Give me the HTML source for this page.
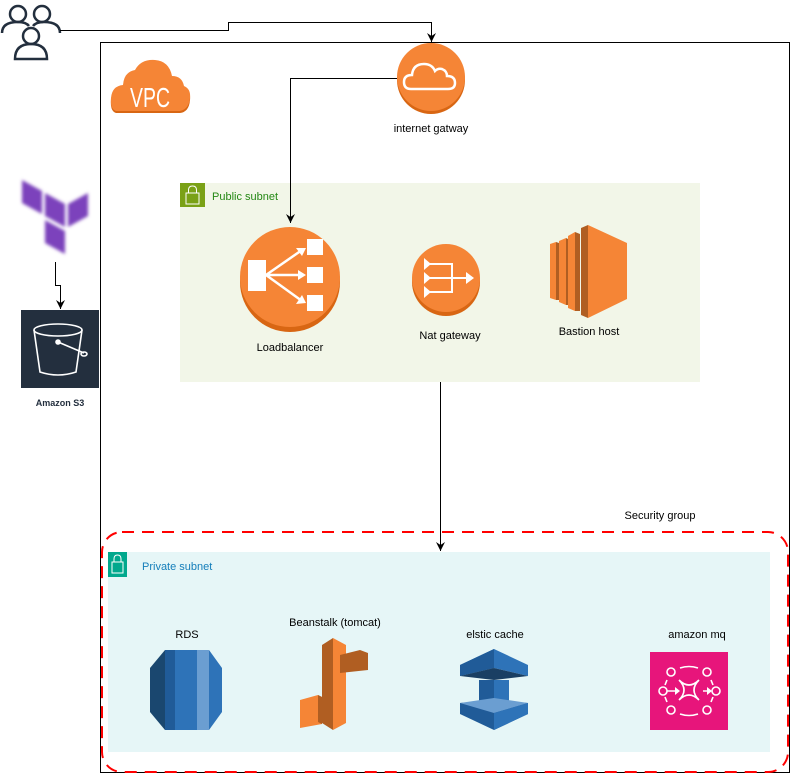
<!DOCTYPE html>
<html><head><meta charset="utf-8"><style>
html,body{margin:0;padding:0;background:#fff;}
svg{display:block;font-family:"Liberation Sans",Arial,sans-serif;}
</style></head><body>
<svg width="791" height="773" viewBox="0 0 791 773" xmlns="http://www.w3.org/2000/svg">
<defs>
<marker id="ar" markerWidth="10" markerHeight="10" refX="9" refY="4.5" orient="auto" markerUnits="userSpaceOnUse">
<path d="M0,0 L9,4.5 L0,9 L3,4.5 Z" fill="#000"/>
</marker>
<filter id="bl"><feGaussianBlur stdDeviation="1.5"/></filter>
</defs>
<rect x="100.5" y="42.5" width="689" height="730" fill="#fff" stroke="#000" stroke-width="1"/>

<!-- users -->
<g fill="none" stroke="#232f3e" stroke-width="2.5">
<circle cx="18" cy="14" r="8"/><path d="M2,33 q0,-11 16,-11 q8,0 11,4"/>
<circle cx="42" cy="14" r="8"/><path d="M60,33 q0,-11 -16,-11 q-8,0 -11,4"/>
<circle cx="31" cy="36" r="8"/><path d="M15,59 q0,-15 16,-15 q16,0 16,15 z"/>
</g>

<!-- VPC cloud -->
<g>
<path d="M116,113 q-6,-2 -5,-13 q1,-12 12,-13 q1,-13 12,-15 q6,-11 20,-10 q14,1 17,16 q10,0 12,10 q7,3 6,12 q-1,12 -10,13 z" fill="#d86613"/>
<path d="M116,111 q-6,-2 -5,-13 q1,-12 12,-13 q1,-13 12,-15 q6,-11 20,-10 q14,1 17,16 q10,0 12,10 q7,3 6,12 q-1,11 -10,13 z" fill="#f58536"/>
<text x="150" y="107" font-size="28" fill="#fff" text-anchor="middle" textLength="40" lengthAdjust="spacingAndGlyphs">VPC</text>
</g>

<!-- IGW -->
<circle cx="431" cy="80" r="34" fill="#d86613"/>
<circle cx="431" cy="77" r="34" fill="#f58536"/>
<path d="M411,89 q-7,0 -7,-7 q0,-7 8,-7 q1,-11 12,-11 q8,0 11,7 q3,-3 7,-2 q5,2 5,7 q8,0 8,7 q0,6 -7,6 z" fill="none" stroke="#fff" stroke-width="2.5"/>
<text x="431" y="132" font-size="11" text-anchor="middle" fill="#000">internet gatway</text>

<!-- terraform -->
<g fill="#7b42bc" filter="url(#bl)">
<polygon points="22,180 42,191 42,214 22,203"/>
<polygon points="45,193 65,204 65,227 45,216"/>
<polygon points="68,204 88,193 88,216 68,227"/>
<polygon points="45,220 65,231 65,254 45,243"/>
</g>
<!-- S3 -->
<rect x="21" y="310" width="78" height="78" fill="#232f3e"/>
<g fill="none" stroke="#fff" stroke-width="1.6">
<ellipse cx="58" cy="330" rx="24" ry="6"/>
<path d="M34,330 L40,372 q18,6 36,0 L82,330"/>
<path d="M58,342 L84,353" /><circle cx="58" cy="342" r="2" fill="#fff"/>
<ellipse cx="84" cy="354" rx="3" ry="2"/>
</g>
<text x="60" y="406" font-size="9" font-weight="bold" text-anchor="middle" fill="#232f3e">Amazon S3</text>

<!-- public subnet -->
<rect x="180" y="183" width="520" height="199" fill="#f2f6e8"/>
<rect x="180" y="183" width="25" height="24" fill="#7aa116"/>
<g fill="none" stroke="#fff" stroke-width="1"><rect x="186" y="193" width="13" height="11"/><path d="M188.5,193 v-3 q0,-4 4,-4 q4,0 4,4 v3"/></g>
<text x="212" y="200" font-size="11" fill="#248814">Public subnet</text>

<!-- LB -->
<circle cx="290" cy="282" r="50" fill="#d86613"/>
<circle cx="290" cy="277" r="50" fill="#f58536"/>
<g fill="#fff">
<rect x="248" y="260" width="18" height="31"/>
<rect x="307" y="239" width="16" height="16"/><rect x="307" y="267" width="16" height="16"/><rect x="307" y="295" width="16" height="16"/>
</g>
<g stroke="#fff" stroke-width="2.5" fill="none"><path d="M266,275 L302,250 M266,275 H302 M266,275 L302,301"/></g>
<g fill="#fff"><polygon points="306,248 296,248 302,256"/><polygon points="306,275 298,270 298,280"/><polygon points="306,303 296,304 302,295"/></g>
<text x="290" y="351" font-size="11" text-anchor="middle" fill="#000">Loadbalancer</text>

<!-- NAT -->
<circle cx="446" cy="282" r="34" fill="#d86613"/>
<circle cx="446" cy="278" r="34" fill="#f58536"/>
<g stroke="#fff" stroke-width="2" fill="none"><path d="M430,264 H452 V292 H430 M430,278 H468"/></g>
<g fill="#fff"><polygon points="424,258 431,264 424,270"/><polygon points="424,272 431,278 424,284"/><polygon points="424,286 431,292 424,298"/><polygon points="466,272 474,278 466,284"/></g>
<text x="450" y="339" font-size="11" text-anchor="middle" fill="#000">Nat gateway</text>

<!-- Bastion -->
<g>
<polygon points="550,244 556,242 556,300 550,298" fill="#f58536"/><polygon points="556,242 559,243 559,300 556,300" fill="#b05e22"/>
<polygon points="559,241 566,238 566,305 559,302" fill="#f58536"/><polygon points="566,238 570,240 570,305 566,305" fill="#b05e22"/>
<polygon points="568,236 575,232 575,311 568,308" fill="#f58536"/><polygon points="575,232 580,234 580,311 575,311" fill="#b05e22"/>
<polygon points="581,228 588,225 588,318 581,315" fill="#b05e22"/>
<polygon points="588,225 627,243 627,299 588,318" fill="#f58536"/>
</g>
<text x="589" y="335" font-size="11" text-anchor="middle" fill="#000">Bastion host</text>

<text x="660" y="519" font-size="11" text-anchor="middle" fill="#000">Security group</text>

<!-- private subnet -->
<rect x="108" y="552" width="662" height="200" fill="#e6f6f7"/>
<rect x="108" y="552" width="19" height="25" fill="#01a88d"/>
<g fill="none" stroke="#fff" stroke-width="1"><rect x="112" y="562" width="11" height="11"/><path d="M114,562 v-3 q0,-4 3.5,-4 q3.5,0 3.5,4 v3"/></g>
<text x="142" y="570" font-size="11" fill="#147eba">Private subnet</text>
<!-- security group -->
<rect x="102" y="532" width="686" height="240" rx="20" fill="none" stroke="#ff0000" stroke-width="2" stroke-dasharray="12,8"/>

<!-- RDS -->
<text x="187" y="638" font-size="11" text-anchor="middle" fill="#000">RDS</text>
<path d="M165,650 L150,668 V712 L165,730 Z" fill="#1a476f"/>
<rect x="165" y="650" width="10" height="80" fill="#205b98"/>
<rect x="175" y="650" width="22" height="80" fill="#2e73b8"/>
<rect x="197" y="650" width="12" height="80" fill="#6b9ed1"/>
<path d="M209,650 L222,668 V712 L209,730 Z" fill="#2e73b8"/>

<!-- Beanstalk -->
<text x="335" y="626" font-size="11" text-anchor="middle" fill="#000">Beanstalk (tomcat)</text>
<polygon points="322,645 333,638 333,730 322,723" fill="#b05e22"/>
<polygon points="333,638 346,645 346,723 333,730" fill="#f58536"/>
<polygon points="340,655 360,650 368,653 368,670 340,673" fill="#b05e22"/>
<polygon points="300,700 318,695 322,697 322,724 300,728" fill="#f58536"/>
<polygon points="318,695 322,697 322,724 318,722" fill="#b05e22"/>

<!-- Elasticache -->
<text x="495" y="638" font-size="11" text-anchor="middle" fill="#000">elstic cache</text>
<polygon points="494,649 528,665 528,676 494,668 460,676 460,665" fill="#2e73b8"/>
<polygon points="494,649 460,665 460,676 494,668" fill="#205b98"/>
<polygon points="460,676 494,668 528,676 494,680" fill="#1a3f63"/>
<rect x="479" y="680" width="15" height="22" fill="#205b98"/><rect x="494" y="680" width="15" height="22" fill="#2e73b8"/>
<polygon points="460,703 494,700 528,703 528,714 494,730 460,714" fill="#205b98"/>
<polygon points="460,703 494,698 528,703 494,713" fill="#6b9ed1"/>
<polygon points="494,713 528,703 528,714 494,730" fill="#2e73b8"/>

<!-- MQ -->
<text x="697" y="638" font-size="11" text-anchor="middle" fill="#000">amazon mq</text>
<rect x="650" y="652" width="78" height="78" fill="#e7157b"/>
<g fill="none" stroke="#fff" stroke-width="1.6">
<circle cx="671" cy="672" r="4"/><circle cx="707" cy="672" r="4"/><circle cx="663" cy="691" r="4"/><circle cx="716" cy="691" r="4"/><circle cx="671" cy="710" r="4"/><circle cx="707" cy="710" r="4"/>
<path d="M680,668 q9,-3 18,0 M680,714 q9,3 18,0 M667,680 l-2,5 M711,680 l2,5 M665,697 l2,5 M713,697 l-2,5"/>
<path d="M679,680 q10,10 20,0 q-10,10 0,20 q-10,-10 -20,0 q10,-10 0,-20 z"/>
<path d="M667,691 h8 M703,691 h8"/>
</g>
<polygon points="675,687 680,691 675,695" fill="#fff"/><polygon points="707,687 712,691 707,695" fill="#fff"/>

<!-- connectors on top -->
<g fill="none" stroke="#000" stroke-width="1">
<path d="M60,30.5 H228.5 V22.5 H431.5 V42" marker-end="url(#ar)"/>
<path d="M397,78.5 H290.5 V223" marker-end="url(#ar)"/>
<path d="M55.5,262 V285.5 H60.5 V309" marker-end="url(#ar)"/>
<path d="M440.5,382 V551" marker-end="url(#ar)"/>
</g>
</svg>
</body></html>
